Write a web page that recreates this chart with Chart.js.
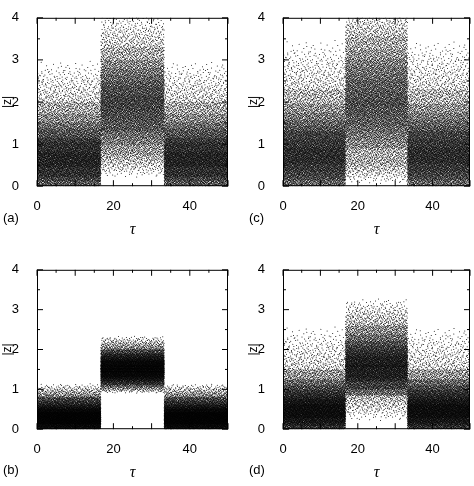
<!DOCTYPE html>
<html><head><meta charset="utf-8">
<script src="https://cdn.jsdelivr.net/npm/chart.js@4"></script>
<style>
body{margin:0;background:#fff;width:474px;height:486px;overflow:hidden;position:relative;font-family:"Liberation Sans",Arial,sans-serif}
canvas{position:absolute}
.lab{position:absolute;font-size:13px;color:#000}
</style></head><body>
<canvas id="a" style="left:0;top:0" width="237" height="243"></canvas>
<canvas id="c" style="left:246px;top:0" width="228" height="243"></canvas>
<canvas id="b" style="left:0;top:252px" width="237" height="234"></canvas>
<canvas id="d" style="left:246px;top:252px" width="228" height="234"></canvas>
<div class="lab" style="left:3px;top:210px">(a)</div>
<div class="lab" style="left:249px;top:210px">(c)</div>
<div class="lab" style="left:3px;top:462px">(b)</div>
<div class="lab" style="left:249px;top:462px">(d)</div>
<script>
// segment boundaries in tau
const segBounds=[0,16.7,33.3,50];
// |z| quantile boundaries (20 equal-probability bins)
const aOuter=[0,0.12,0.22,0.3,0.38,0.46,0.53,0.6,0.67,0.74,0.81,0.89,0.97,1.05,1.14,1.25,1.37,1.52,1.72,2.0,3.0];
const aMiddle=[0.2,0.75,0.98,1.15,1.3,1.42,1.54,1.65,1.76,1.86,1.96,2.06,2.16,2.27,2.38,2.5,2.64,2.8,3.0,3.3,4.2];
const cOuter=[0,0.14,0.25,0.35,0.44,0.53,0.61,0.69,0.77,0.85,0.93,1.02,1.11,1.21,1.31,1.43,1.57,1.74,1.96,2.3,3.5];
const cMiddle=[0.05,0.6,0.9,1.1,1.27,1.42,1.55,1.68,1.8,1.92,2.03,2.15,2.27,2.4,2.53,2.68,2.84,3.02,3.25,3.55,4.3];
const bOuter=[0,0.05,0.09,0.13,0.16,0.19,0.22,0.25,0.28,0.31,0.34,0.37,0.4,0.43,0.47,0.51,0.56,0.62,0.7,0.8,1.15];
const bMiddle=[0.9,1.12,1.2,1.26,1.31,1.35,1.39,1.43,1.46,1.5,1.53,1.57,1.6,1.64,1.68,1.72,1.77,1.83,1.9,2.0,2.35];
const dOuter=[0,0.09,0.16,0.22,0.28,0.33,0.38,0.43,0.48,0.53,0.58,0.63,0.69,0.75,0.82,0.9,0.99,1.1,1.25,1.5,2.6];
const dMiddle=[0.2,0.85,1.0,1.1,1.2,1.28,1.35,1.42,1.49,1.56,1.62,1.69,1.76,1.83,1.91,2.0,2.1,2.22,2.38,2.6,3.3];
const yTicks=[0,1,2,3,4], xTicks=[0,20,40];

function vdc(n,b){let r=0,f=1/b;while(n>0){r+=(n%b)*f;n=Math.floor(n/b);f/=b;}return r;}
function points(outer,middle){
  const pts=[];const N=24000;
  for(let i=0;i<N;i++){
    const n=i+1237;
    const t=vdc(n,2)*50;
    const q=(t>=segBounds[1]&&t<segBounds[2])?middle:outer;
    const u=vdc(n,3)*20;
    const k=Math.min(19,Math.floor(u));let f=u-k;
    if(k==19) f=1-Math.sqrt(1-f);
    if(k==0 && q[0]>0) f=Math.sqrt(f);
    pts.push({x:t,y:q[k]+(q[k+1]-q[k])*f});
  }
  return pts;
}
const frame={id:'frame',afterDraw(ch){
  const {ctx,chartArea:a,scales:{x,y}}=ch;
  ctx.save();ctx.strokeStyle='#000';ctx.lineWidth=1;
  ctx.strokeRect(a.left+0.5,a.top+0.5,a.right-a.left-1,a.bottom-a.top-1);
  ctx.beginPath();
  for(let v=0;v<=50;v+=5){const p=x.getPixelForValue(v);const L=v%10==0?6:3;
    ctx.moveTo(p,a.bottom);ctx.lineTo(p,a.bottom-L);ctx.moveTo(p,a.top);ctx.lineTo(p,a.top+L);}
  for(let v=0;v<=4;v+=0.5){const p=y.getPixelForValue(v);const L=v%1==0?6:3;
    ctx.moveTo(a.left,p);ctx.lineTo(a.left+L,p);ctx.moveTo(a.right,p);ctx.lineTo(a.right-L,p);}
  ctx.stroke();ctx.restore();}};
function make(id,outer,middle,rightPad){
  new Chart(document.getElementById(id),{type:'scatter',
    data:{datasets:[{data:points(outer,middle),pointRadius:0.5,pointBorderWidth:0,backgroundColor:'#000',borderColor:'#000'}]},
    options:{responsive:false,animation:false,events:[],
      layout:{padding:{top:1,right:rightPad,left:0,bottom:0}},
      plugins:{legend:{display:false},tooltip:{enabled:false}},
      scales:{
        x:{type:'linear',min:0,max:50,afterBuildTicks(s){s.ticks=xTicks.map(v=>({value:v}));},
          grid:{display:false},border:{display:false},
          ticks:{color:'#000',font:{family:'Liberation Sans',size:13},padding:4},
          title:{display:true,text:'τ',color:'#000',font:{family:'Liberation Serif',size:16,style:'italic'},padding:{top:2}}},
        y:{min:0,max:4,afterBuildTicks(s){s.ticks=yTicks.map(v=>({value:v}));},
          afterFit(s){s.width=37;},
          grid:{display:false},border:{display:false},
          ticks:{color:'#000',font:{family:'Liberation Sans',size:13},padding:10},
          title:{display:true,text:'|z|',color:'#000',font:{family:'Liberation Sans',size:12},padding:0}}}},
    plugins:[frame]});
}
make('a',aOuter,aMiddle,9);
make('c',cOuter,cMiddle,0);
make('b',bOuter,bMiddle,9);
make('d',dOuter,dMiddle,0);
</script></body></html>
